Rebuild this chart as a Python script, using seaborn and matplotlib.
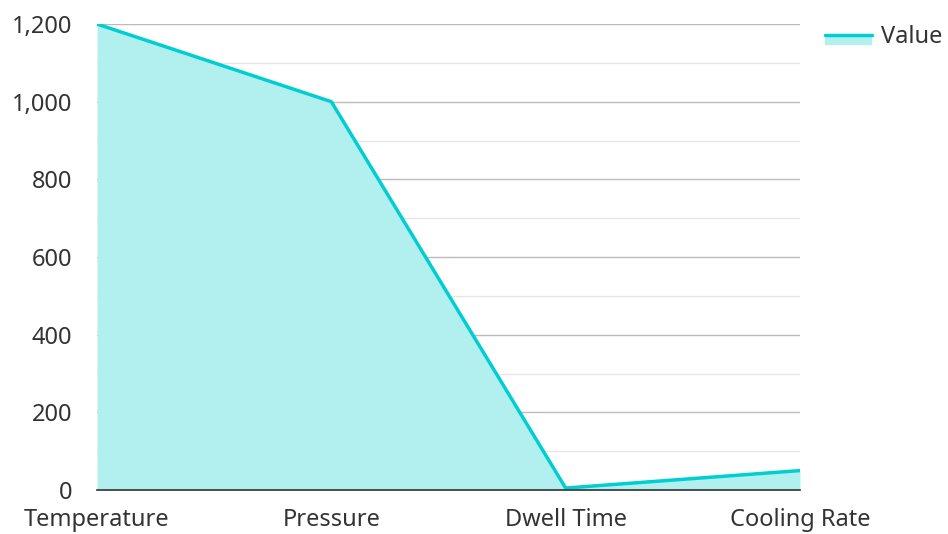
import numpy as np
import pandas as pd
import matplotlib
matplotlib.use("Agg")
import matplotlib.pyplot as plt
import seaborn as sns
from matplotlib.lines import Line2D
from matplotlib.patches import Rectangle
from matplotlib.ticker import FuncFormatter, MultipleLocator

# data
categories = ["Temperature", "Pressure", "Dwell Time", "Cooling Rate"]
values = [1200, 1000, 5, 50]

df = pd.DataFrame({"Parameter": categories, "Value": values})

sns.set_style("white")
plt.rcParams['font.family'] = ['Noto Sans', 'DejaVu Sans']

line_color = "#00CED1"
fill_color = "#B2F0EF"
text_color = "#333333"
fsize = 17


class AreaKey:
    pass


class AreaHandler:
    # line on top of a filled band, like the area legend icon
    def legend_artist(self, legend, orig_handle, fontsize, handlebox):
        x0, y0 = handlebox.xdescent, handlebox.ydescent
        w, h = handlebox.width, handlebox.height
        top = y0 + h * 0.5
        bottom = y0 - h * 0.15
        rect = Rectangle((x0, bottom), w, top - bottom, facecolor=fill_color,
                         edgecolor="none")
        ln = Line2D([x0, x0 + w], [top, top], color=line_color, linewidth=2.5)
        ln.set_zorder(5)
        handlebox.add_artist(rect)
        handlebox.add_artist(ln)
        return rect


fig = plt.figure(figsize=(9.48, 5.34), dpi=100)
ax = fig.add_axes([0.1023, 0.0824, 0.7416, 0.8726])

x = np.arange(len(categories))
ax.fill_between(x, values, 0, color=fill_color, linewidth=0, zorder=2)
sns.lineplot(data=df, x="Parameter", y="Value", ax=ax, color=line_color,
             linewidth=2.5, sort=False, zorder=3)

ax.set_xlim(0, len(categories) - 1)
ax.set_ylim(0, 1200)
ax.yaxis.set_major_locator(MultipleLocator(200))
ax.yaxis.set_minor_locator(MultipleLocator(100))
ax.yaxis.set_major_formatter(FuncFormatter(lambda v, p: f"{int(v):,}"))
ax.grid(True, which="major", axis="y", color="#BBBBBB", linewidth=1, zorder=1)
ax.grid(True, which="minor", axis="y", color="#E6E6E6", linewidth=1, zorder=1)
ax.set_axisbelow(True)

for s in ["top", "right", "left"]:
    ax.spines[s].set_visible(False)
ax.spines["bottom"].set_color("#333333")
ax.spines["bottom"].set_linewidth(1.2)
ax.spines["bottom"].set_zorder(4)

ax.tick_params(axis="both", which="both", length=0, labelsize=fsize,
               colors=text_color)
ax.tick_params(axis="y", pad=18)
ax.tick_params(axis="x", pad=13)
ax.set_xlabel("")
ax.set_ylabel("")

leg = fig.legend(handles=[AreaKey()], labels=["Value"],
                 handler_map={AreaKey: AreaHandler()},
                 loc="center left", bbox_to_anchor=(0.870, 0.931),
                 frameon=False, fontsize=fsize, handlelength=2.0,
                 handletextpad=0.4, borderpad=0, borderaxespad=0)
for t in leg.get_texts():
    t.set_color(text_color)

fig.savefig("out.png", dpi=100)
